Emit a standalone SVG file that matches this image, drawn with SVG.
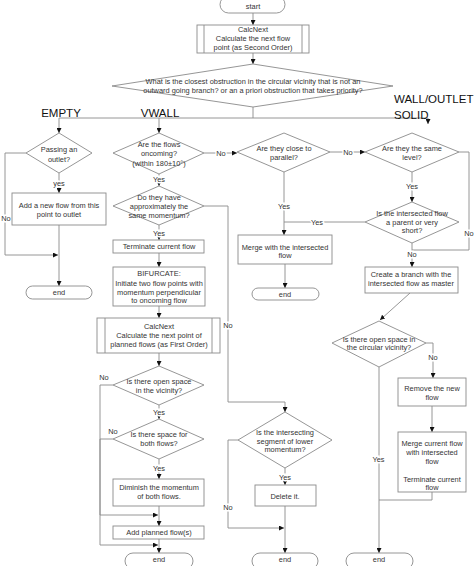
<svg xmlns="http://www.w3.org/2000/svg" width="474" height="566" viewBox="0 0 474 566">
<defs>
<marker id="ah" markerWidth="5" markerHeight="5" refX="5" refY="2.5" orient="auto" markerUnits="userSpaceOnUse">
<path d="M0,0 L5,2.5 L0,5 z" fill="#111"/>
</marker>
<style>
.s{fill:#fff;stroke:#8a8a8a;stroke-width:0.9}
.c{fill:none;stroke:#8a8a8a;stroke-width:0.9}
.a{fill:none;stroke:#8a8a8a;stroke-width:0.9;marker-end:url(#ah)}
text{font-family:"Liberation Sans",Arial,sans-serif;font-size:7.4px;fill:#333;text-anchor:middle}
.big{font-size:11.5px;fill:#111}
.bl{font-size:11.5px;fill:#111;text-anchor:start}
.lb{stroke:#fff;stroke-width:3;paint-order:stroke}
</style>
</defs>
<rect width="474" height="566" fill="#fff"/>

<g id="connectors">
<path class="a" d="M253,13 V25"/>
<path class="a" d="M253,53 V64"/>
<path class="c" d="M253,107 V118 M59,118 H428"/>
<path class="a" d="M59,118 V133"/>
<path class="a" d="M159,118 V133"/>
<path class="a" d="M428,118 V124"/>
<path class="a" d="M59,173 V193"/>
<path class="a" d="M59,225 V286"/>
<path class="a" d="M26,153 H5 V255 H58"/>
<path class="a" d="M204,153 H237"/>
<path class="a" d="M159,174 V186"/>
<path class="a" d="M159,225 V240"/>
<path class="a" d="M159,253 V267"/>
<path class="a" d="M159,306 V318"/>
<path class="a" d="M159,353 V366"/>
<path class="a" d="M159,405 V419"/>
<path class="a" d="M159,459 V479"/>
<path class="a" d="M159,506 V526"/>
<path class="a" d="M159,539 V553"/>
<path class="a" d="M113,385 H100 V545 H158"/>
<path class="a" d="M113,439 H100 V515 H158"/>
<path class="a" d="M204,206 H228 V402 H285 V412"/>
<path class="a" d="M330,152 H365"/>
<path class="a" d="M284,172 V235"/>
<path class="c" d="M365,222 H284"/>
<path class="a" d="M285,264 V288"/>
<path class="c" d="M459,152 H469 V250 H412"/>
<path class="a" d="M412,172 V202"/>
<path class="a" d="M412,243 V267"/>
<path class="a" d="M410,293 L380,320"/>
<path class="a" d="M426,343 H433 V378"/>
<path class="a" d="M432,406 V432"/>
<path class="c" d="M432,492 V500 H379"/>
<path class="a" d="M379,367 V553"/>
<path class="a" d="M285,468 V485"/>
<path class="a" d="M285,506 V553"/>
<path class="a" d="M238,440 H228 V528 H284"/>
<text class="lb" x="59" y="185.5">yes</text>
<text class="lb" x="6" y="220.5">No</text>
<text class="lb" x="221" y="155.5">No</text>
<text class="lb" x="159" y="181.5">Yes</text>
<text class="lb" x="159" y="235.5">Yes</text>
<text class="lb" x="228" y="327.5">No</text>
<text class="lb" x="104" y="379.5">No</text>
<text class="lb" x="159" y="414.5">Yes</text>
<text class="lb" x="113" y="433.5">No</text>
<text class="lb" x="159" y="470.5">Yes</text>
<text class="lb" x="348" y="154.5">No</text>
<text class="lb" x="284" y="208.5">Yes</text>
<text class="lb" x="469" y="235.5">No</text>
<text class="lb" x="412" y="188.5">Yes</text>
<text class="lb" x="317" y="224.5">Yes</text>
<text class="lb" x="412" y="256.5">No</text>
<text class="lb" x="433" y="359.5">No</text>
<text class="lb" x="378.5" y="461.5">Yes</text>
<text class="lb" x="285" y="479.5">Yes</text>
<text class="lb" x="228" y="509.5">No</text>
</g>

<g id="branch-labels">
<text class="big" x="61" y="116.5">EMPTY</text>
<text class="big" x="160" y="116.5">VWALL</text>
<text class="bl" x="394" y="103">WALL/OUTLET</text>
<text class="bl" x="394" y="119">SOLID</text>
</g>

<g id="start">
<rect class="s" x="220" y="-4" width="65" height="17" rx="8.5"/>
<text x="253" y="8.5">start</text>
</g>

<g id="calcnext1">
<rect class="s" x="197" y="25" width="112" height="28"/>
<path class="c" d="M204,25 V53 M302,25 V53"/>
<text x="253" y="32">CalcNext</text>
<text x="253" y="41">Calculate the next flow</text>
<text x="253" y="50">point (as Second Order)</text>
</g>

<g id="closest-obstruction">
<polygon class="s" points="253,64 393,86 253,107 112,86"/>
<text x="253" y="83.5">What is the closest obstruction in the circular vicinity that is not an</text>
<text x="253" y="92.5">outward going branch? or an a priori obstruction that takes priority?</text>
</g>

<g id="passing-outlet">
<polygon class="s" points="59,133 92,153 59,173 26,153"/>
<text x="59" y="151.5">Passing an</text>
<text x="59" y="161.5">outlet?</text>
</g>

<g id="add-flow">
<rect class="s" x="12" y="193" width="94" height="32"/>
<text x="59" y="207.5">Add a new flow from this</text>
<text x="59" y="216.5">point to outlet</text>
</g>

<g id="end1">
<rect class="s" x="26" y="286" width="66" height="13" rx="6.5"/>
<text x="59" y="295">end</text>
</g>

<g id="oncoming">
<polygon class="s" points="159,133 204,153 159,174 113,153"/>
<text x="159" y="146.5">Are the flows</text>
<text x="159" y="156">oncoming?</text>
<text x="159" y="165.5">(within 180±10°)</text>
</g>

<g id="same-momentum">
<polygon class="s" points="159,186 204,206 159,225 113,206"/>
<text x="159" y="200">Do they have</text>
<text x="159" y="209">approximately the</text>
<text x="159" y="218">same momentum?</text>
</g>

<g id="terminate">
<rect class="s" x="113" y="240" width="91" height="13"/>
<text x="159" y="249">Terminate current flow</text>
</g>

<g id="bifurcate">
<rect class="s" x="113" y="267" width="92" height="39"/>
<text x="159" y="276">BIFURCATE:</text>
<text x="159" y="285.5">Initiate two flow points with</text>
<text x="159" y="294.5">momentum perpendicular</text>
<text x="159" y="303">to oncoming flow</text>
</g>

<g id="calcnext2">
<rect class="s" x="97" y="318" width="123" height="35"/>
<path class="c" d="M105,318 V353 M212,318 V353"/>
<text x="159" y="328.5">CalcNext</text>
<text x="159" y="337.5">Calculate the next point of</text>
<text x="159" y="346.5">planned flows (as First Order)</text>
</g>

<g id="open-space">
<polygon class="s" points="159,366 204,385 159,405 113,385"/>
<text x="159" y="384">Is there open space</text>
<text x="159" y="393">in the vicinity?</text>
</g>

<g id="space-both">
<polygon class="s" points="159,419 204,439 159,459 113,439"/>
<text x="159" y="437">Is there space for</text>
<text x="159" y="446">both flows?</text>
</g>

<g id="diminish">
<rect class="s" x="113" y="479" width="91" height="27"/>
<text x="159" y="490">Diminish the momentum</text>
<text x="159" y="499">of both flows.</text>
</g>

<g id="add-planned">
<rect class="s" x="113" y="526" width="91" height="13"/>
<text x="159" y="535">Add planned flow(s)</text>
</g>

<g id="end2">
<rect class="s" x="125" y="553" width="68" height="16" rx="8"/>
<text x="159" y="561.5">end</text>
</g>

<g id="close-parallel">
<polygon class="s" points="284,133 330,152 284,172 237,152"/>
<text x="284" y="150.5">Are they close to</text>
<text x="284" y="159.5">parallel?</text>
</g>

<g id="merge">
<rect class="s" x="238" y="235" width="94" height="29"/>
<text x="285" y="249.5">Merge with the intersected</text>
<text x="285" y="258">flow</text>
</g>

<g id="end3">
<rect class="s" x="252" y="288" width="67" height="12" rx="6"/>
<text x="285" y="296.5">end</text>
</g>

<g id="same-level">
<polygon class="s" points="412,133 459,152 412,172 365,152"/>
<text x="412" y="150.5">Are they the same</text>
<text x="412" y="159.5">level?</text>
</g>

<g id="parent-short">
<polygon class="s" points="412,202 459,222 412,243 365,222"/>
<text x="412" y="216">Is the intersected flow</text>
<text x="412" y="224.5">a parent or very</text>
<text x="412" y="233">short?</text>
</g>

<g id="create-branch">
<rect class="s" x="365" y="267" width="93" height="26"/>
<text x="411" y="277">Create a branch with the</text>
<text x="411" y="286">intersected flow as master</text>
</g>

<g id="circular-space">
<polygon class="s" points="379,321 426,343 379,367 332,343"/>
<text x="379" y="341.5">Is there open space in</text>
<text x="379" y="350">the circular vicinity?</text>
</g>

<g id="remove-new">
<rect class="s" x="398" y="378" width="68" height="28"/>
<text x="432" y="390.5">Remove the new</text>
<text x="432" y="399.5">flow</text>
</g>

<g id="merge-current">
<rect class="s" x="398" y="432" width="68" height="60"/>
<text x="432" y="446">Merge current flow</text>
<text x="432" y="455">with intersected</text>
<text x="432" y="463.5">flow</text>
<text x="432" y="481.5">Terminate current</text>
<text x="432" y="490">flow</text>
</g>

<g id="end5">
<rect class="s" x="346" y="553" width="67" height="16" rx="8"/>
<text x="379" y="561.5">end</text>
</g>

<g id="lower-momentum">
<polygon class="s" points="285,412 332,440 285,468 238,440"/>
<text x="285" y="434.5">Is the intersecting</text>
<text x="285" y="443.5">segment of lower</text>
<text x="285" y="452">momentum?</text>
</g>

<g id="delete">
<rect class="s" x="255" y="485" width="61" height="21"/>
<text x="285" y="498.5">Delete it.</text>
</g>

<g id="end4">
<rect class="s" x="252" y="553" width="66" height="16" rx="8"/>
<text x="285" y="561.5">end</text>
</g>
</svg>
